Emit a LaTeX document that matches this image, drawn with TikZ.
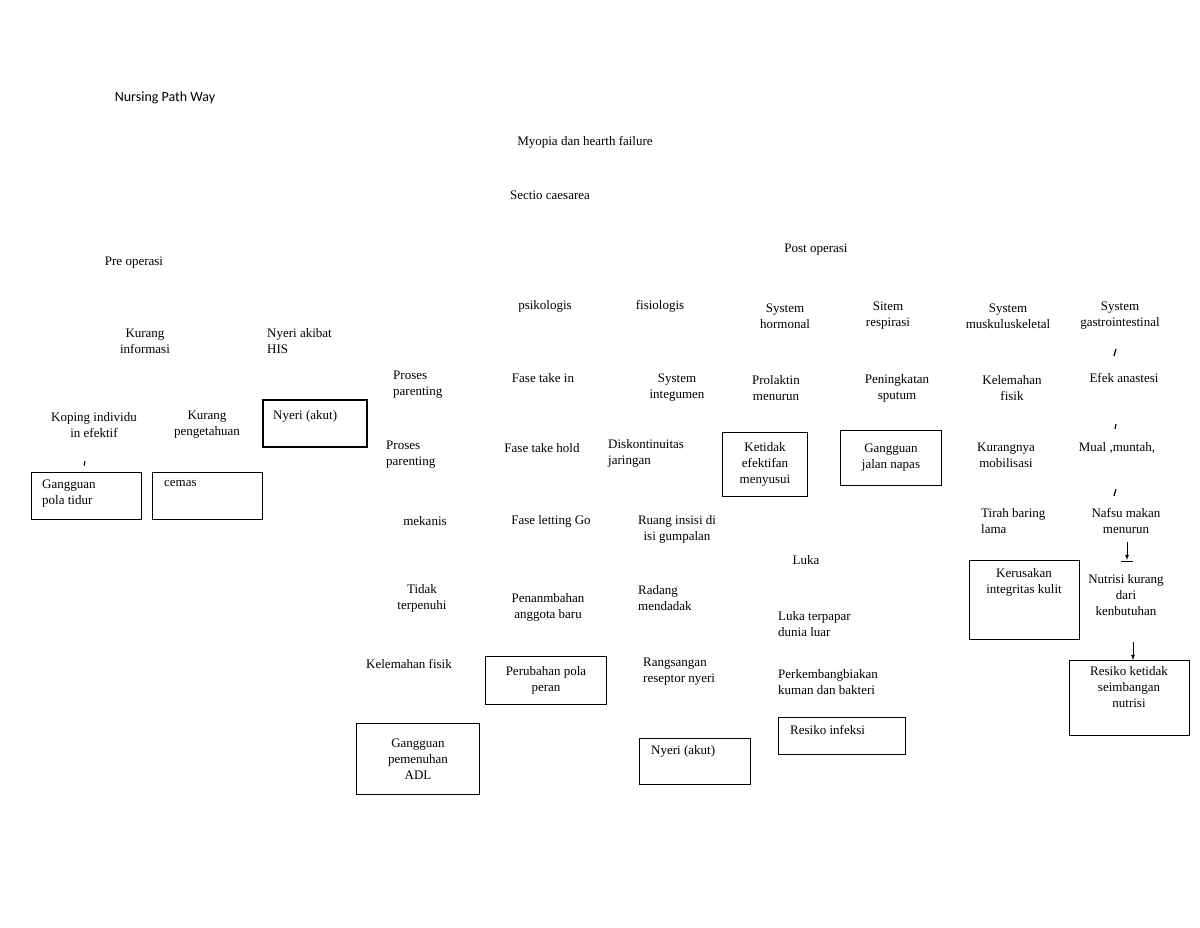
\documentclass[tikz,border=0pt]{standalone}
\usepackage{fontspec}
\setmainfont{Liberation Serif}
\newfontfamily\titlefont{Carlito}
\begin{document}
\begin{tikzpicture}[x=1pt,y=-1pt,
  t/.style={font=\fontsize{13}{16}\selectfont, align=center, inner sep=0pt},
  tl/.style={font=\fontsize{13}{16}\selectfont, align=left, inner sep=0pt},
  box/.style={draw, line width=0.8pt, font=\fontsize{13}{16}\selectfont, align=center, inner sep=2pt},
  arr/.style={-latex, line width=0.8pt}]
\useasboundingbox (0,0) rectangle (1200,927);
\node[t,font=\titlefont\fontsize{14}{16}\selectfont] (title) at (165,98) {Nursing Path Way};
\node[t] (myo) at (585,142) {Myopia dan hearth failure};
\node[t] (sc) at (550,195) {Sectio caesarea};
\node[t] (post) at (816,250) {Post operasi};
\node[t] (pre) at (134,263) {Pre operasi};
\node[t] (psi) at (545,306) {psikologis};
\node[t] (fis) at (660,306) {fisiologis};
\node[t] (hor) at (785,316) {System\\hormonal};
\node[t] (res) at (888,316) {Sitem\\respirasi};
\node[t] (mus) at (1008,316) {System\\muskuluskeletal};
\node[t] (gas) at (1120,316) {System\\gastrointestinal};
\node[t] (kinf) at (145,341) {Kurang\\informasi};
\node[tl,anchor=west] (nhis) at (267,341) {Nyeri akibat\\HIS};
\node[tl,anchor=west] (pp1) at (393,385) {Proses\\parenting};
\node[t] (fti) at (543,378) {Fase take in};
\node[t] (sint) at (677,388) {System\\integumen};
\node[t] (prol) at (776,388) {Prolaktin\\menurun};
\node[t] (pspu) at (897,388) {Peningkatan\\sputum};
\node[t] (kfis) at (1012,388) {Kelemahan\\fisik};
\node[t] (efek) at (1124,378) {Efek anastesi};
\node[t] (kop) at (94,425) {Koping individu\\in efektif};
\node[t] (kpeng) at (207,425) {Kurang\\pengetahuan};
\node[draw,line width=2pt,minimum width=104,minimum height=47,font=\fontsize{13}{16}\selectfont,inner sep=0pt] (nak1) at (315,423) {};
\node[tl,anchor=north west,font=\fontsize{13}{16}\selectfont] (nak1t) at (273,410) {Nyeri (akut)};
\node[tl,anchor=west] (pp2) at (386,455) {Proses\\parenting};
\node[t] (fth) at (542,448) {Fase take hold};
\node[tl,anchor=west] (disk) at (608,453) {Diskontinuitas\\jaringan};
\node[box,minimum width=85,minimum height=64] (kem) at (765,464) {Ketidak\\efektifan\\menyusui};
\node[box,minimum width=101,minimum height=55] (gjn) at (891,458) {Gangguan\\jalan napas};
\node[t] (kmob) at (1006,455) {Kurangnya\\mobilisasi};
\node[t] (mual) at (1117,448) {Mual ,muntah,};
\node[box,minimum width=110,minimum height=47] (gpt) at (86,496) {};
\node[tl,anchor=north west] at (42,480) {Gangguan\\pola tidur};
\node[box,minimum width=110,minimum height=47] (cem) at (207,496) {};
\node[tl,anchor=north west] at (164,480) {cemas};
\node[t] (mek) at (425,521) {mekanis};
\node[t] (flg) at (551,521) {Fase letting Go};
\node[t] (ruang) at (677,529) {Ruang insisi di\\isi gumpalan};
\node[tl,anchor=west] (tir) at (981,521) {Tirah baring\\lama};
\node[t] (naf) at (1126,521) {Nafsu makan\\menurun};
\node[t] (luka) at (806,560) {Luka};
\node[t] (tdk) at (422,598) {Tidak\\terpenuhi};
\node[t] (pen) at (548,607) {Penanmbahan\\anggota baru};
\node[tl,anchor=west] (rad) at (638,598) {Radang\\mendadak};
\node[tl,anchor=west] (lter) at (778,624) {Luka terpapar\\dunia luar};
\node[box,minimum width=110,minimum height=79] (krs) at (1024,600) {};
\node[t,anchor=north] at (1024,568) {Kerusakan\\integritas kulit};
\node[t] (nutk) at (1126,595) {Nutrisi kurang\\dari\\kenbutuhan};
\node[t] (kfis2) at (409,664) {Kelemahan fisik};
\node[box,minimum width=121,minimum height=48] (ppp) at (546,680) {Perubahan pola\\peran};
\node[tl,anchor=west] (rang) at (643,672) {Rangsangan\\reseptor nyeri};
\node[tl,anchor=west] (perk) at (778,682) {Perkembangbiakan\\kuman dan bakteri};
\node[box,minimum width=120,minimum height=75] (rks) at (1129,698) {};
\node[t,anchor=north] at (1129,666) {Resiko ketidak\\seimbangan\\nutrisi};
\node[box,minimum width=127,minimum height=37] (rinf) at (842,736) {};
\node[tl,anchor=north west] at (790,725) {Resiko infeksi};
\node[box,minimum width=123,minimum height=71] (adl) at (418,759) {Gangguan\\pemenuhan\\ADL};
\node[box,minimum width=111,minimum height=46] (nak2) at (695,761) {};
\node[tl,anchor=north west] at (651,745) {Nyeri (akut)};
% small marks
\draw[line width=1.2pt] (1116,349) -- (1114,356);
\draw[line width=1.2pt] (1116,424) -- (1115,429);
\draw[line width=1.2pt] (1116,489) -- (1114,496);
\draw[line width=1pt] (85,461) -- (84,466);
\draw[arr] (naf.south -| 1127,0) ++(0,8) -- (1127,560);
\draw[line width=0.8pt] (1121,561) -- (1133,561);
\draw[arr] (1133,642) -- (rks.north -| 1133,0);
\end{tikzpicture}
\end{document}
